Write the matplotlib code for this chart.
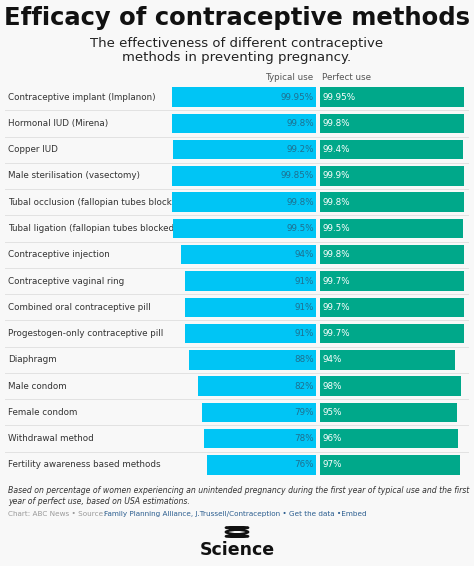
import matplotlib.pyplot as plt
import numpy as np

methods = [
    "Contraceptive implant (Implanon)",
    "Hormonal IUD (Mirena)",
    "Copper IUD",
    "Male sterilisation (vasectomy)",
    "Tubal occlusion (fallopian tubes blocked)",
    "Tubal ligation (fallopian tubes blocked)",
    "Contraceptive injection",
    "Contraceptive vaginal ring",
    "Combined oral contraceptive pill",
    "Progestogen-only contraceptive pill",
    "Diaphragm",
    "Male condom",
    "Female condom",
    "Withdrawal method",
    "Fertility awareness based methods",
]
typical = [99.95, 99.8, 99.2, 99.85, 99.8, 99.5, 94, 91, 91, 91, 88, 82, 79, 78, 76]
perfect = [99.95, 99.8, 99.4, 99.9, 99.8, 99.5, 99.8, 99.7, 99.7, 99.7, 94, 98, 95, 96, 97]

W, H = 474, 566
BLUE = "#00c5f5"
GREEN = "#00a88a"
BG = "#f8f8f8"


def fmt(v):
    return f"{v:g}%"


fig = plt.figure(figsize=(W / 100, H / 100), dpi=100)
fig.patch.set_facecolor(BG)

top, bottom = 84, 478
n = len(methods)


def px_axes(x0, x1):
    return fig.add_axes([x0 / W, 1 - bottom / H, (x1 - x0) / W, (bottom - top) / H])


# background axis for labels and separators
bg = px_axes(0, W)
bg.set_xlim(0, W)
bg.set_ylim(n - 0.5, -0.5)
bg.axis("off")
for i in range(n - 1):
    bg.plot([5, 468], [i + 0.5, i + 0.5], color="#e2e2e2", lw=0.7)
for i, m in enumerate(methods):
    bg.text(8, i, m, fontsize=6.3, va="center", ha="left", color="#333333")

axl = px_axes(172, 316)
axr = px_axes(320, 464)
for ax in (axl, axr):
    ax.set_ylim(n - 0.5, -0.5)
    ax.set_xlim(0, 100)
    ax.axis("off")
axl.invert_xaxis()
y = np.arange(n)
axl.barh(y, typical, height=0.74, color=BLUE)
axr.barh(y, perfect, height=0.74, color=GREEN)
for i in range(n):
    axl.text(1.5, i, fmt(typical[i]), fontsize=6.3, va="center", ha="right", color="#1f6f8f")
    axr.text(1.5, i, fmt(perfect[i]), fontsize=6.3, va="center", ha="left", color="white")

fig.text(313 / W, 1 - 78 / H, "Typical use", fontsize=6.3, ha="right", va="center", color="#555555")
fig.text(322 / W, 1 - 78 / H, "Perfect use", fontsize=6.3, ha="left", va="center", color="#555555")

fig.text(237 / W, 1 - 18 / H, "Efficacy of contraceptive methods", fontsize=17.5,
         fontweight="bold", ha="center", va="center", color="#111111")
fig.text(237 / W, 1 - 51 / H, "The effectiveness of different contraceptive\nmethods in preventing pregnancy.",
         fontsize=9.5, ha="center", va="center", color="#222222", linespacing=1.1)

fig.text(8 / W, 1 - 496 / H,
         "Based on percentage of women experiencing an unintended pregnancy during the first year of typical use and the first\nyear of perfect use, based on USA estimations.",
         fontsize=5.6, style="italic", ha="left", va="center", color="#333333", linespacing=1.3)
fig.text(8 / W, 1 - 514 / H, "Chart: ABC News \u2022 Source: ", fontsize=5.2, ha="left", va="center", color="#999999")
fig.text(104 / W, 1 - 514 / H,
         "Family Planning Alliance, J.Trussell/Contraception \u2022 Get the data \u2022Embed",
         fontsize=5.2, ha="left", va="center", color="#2a5d8f")

# ABC logo
logo = fig.add_axes([224 / W, 1 - 538 / H, 26 / W, 12 / H])
t = np.linspace(0, 2 * np.pi, 400)
logo.plot(np.sin(3 * t), np.cos(t), color="#111111", lw=1.6)
logo.set_xlim(-1.15, 1.15)
logo.set_ylim(-1.2, 1.2)
logo.axis("off")
fig.text(237 / W, 1 - 550 / H, "Science", fontsize=12.5, fontweight="bold",
         ha="center", va="center", color="#111111")

fig.savefig("out.png", dpi=100, facecolor=BG)
